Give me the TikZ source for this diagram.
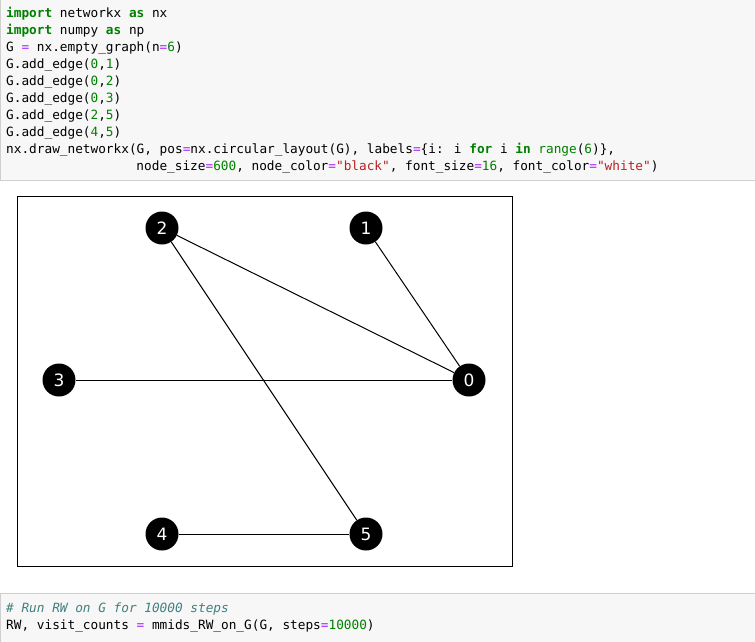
\documentclass[tikz,border=0pt]{standalone}
\usepackage{fontspec}
\setmainfont{DejaVu Sans}
\newfontfamily\codefont{DejaVu Sans Mono}
\definecolor{kw}{HTML}{008000}
\definecolor{op}{HTML}{AA22FF}
\definecolor{st}{HTML}{BA2121}
\definecolor{cm}{HTML}{408080}
\definecolor{cellbg}{HTML}{F7F7F7}
\definecolor{cellbd}{HTML}{CFCFCF}
\newcommand{\K}[1]{\textcolor{kw}{\bfseries #1}}
\newcommand{\N}[1]{\textcolor{kw}{#1}}
\newcommand{\E}{\textcolor{op}{=}}
\newcommand{\St}[1]{\textcolor{st}{#1}}
\begin{document}
\begin{tikzpicture}[x=1pt,y=-1pt,
  code/.style={anchor=base west,inner sep=0pt,font=\codefont\fontsize{12.75}{15}\selectfont},
  vert/.style={circle,fill=black,minimum size=33pt,inner sep=0pt,text=white,font=\fontsize{17}{17}\selectfont},
  edge/.style={draw=black,line width=1pt}]
\useasboundingbox (0,0) rectangle (755,641);
\fill[white] (0,0) rectangle (755,641);
\draw[cellbd,fill=cellbg] (0,-1) rectangle (756,180);
\draw[cellbd,fill=cellbg] (0,593) rectangle (756,642);
\node[code] (l1) at (6,17) {\K{import} networkx \K{as} nx};
\node[code] (l2) at (6,34) {\K{import} numpy \K{as} np};
\node[code] (l3) at (6,51) {G \E{} nx.empty\_graph(n\E\N{6})};
\node[code] (l4) at (6,68) {G.add\_edge(\N{0},\N{1})};
\node[code] (l5) at (6,85) {G.add\_edge(\N{0},\N{2})};
\node[code] (l6) at (6,102) {G.add\_edge(\N{0},\N{3})};
\node[code] (l7) at (6,119) {G.add\_edge(\N{2},\N{5})};
\node[code] (l8) at (6,136) {G.add\_edge(\N{4},\N{5})};
\node[code] (l9) at (6,153) {nx.draw\_networkx(G, pos\E{}nx.circular\_layout(G), labels\E\{i: i \K{for} i \K{in} \N{range}(\N{6})\},};
\node[code] (l10) at (6,170) {\hspace*{130.3pt}node\_size\E\N{600}, node\_color\E\St{"black"}, font\_size\E\N{16}, font\_color\E\St{"white"})};
\node[code] (b1) at (6,612) {\color{cm}\itshape \# Run RW on G for 10000 steps};
\node[code] (b2) at (6,629) {RW, visit\_counts \E{} mmids\_RW\_on\_G(G, steps\E\N{10000})};
\draw[black,line width=0.8pt] (17,196) rectangle (512,566);
\node[vert] (n0) at (469,380) {0};
\node[vert] (n1) at (366,228) {1};
\node[vert] (n2) at (162,228) {2};
\node[vert] (n3) at (59,380) {3};
\node[vert] (n4) at (162,534) {4};
\node[vert] (n5) at (366,534) {5};
\draw[edge] (n0) -- (n1);
\draw[edge] (n0) -- (n2);
\draw[edge] (n0) -- (n3);
\draw[edge] (n2) -- (n5);
\draw[edge] (n4) -- (n5);
\end{tikzpicture}
\end{document}
